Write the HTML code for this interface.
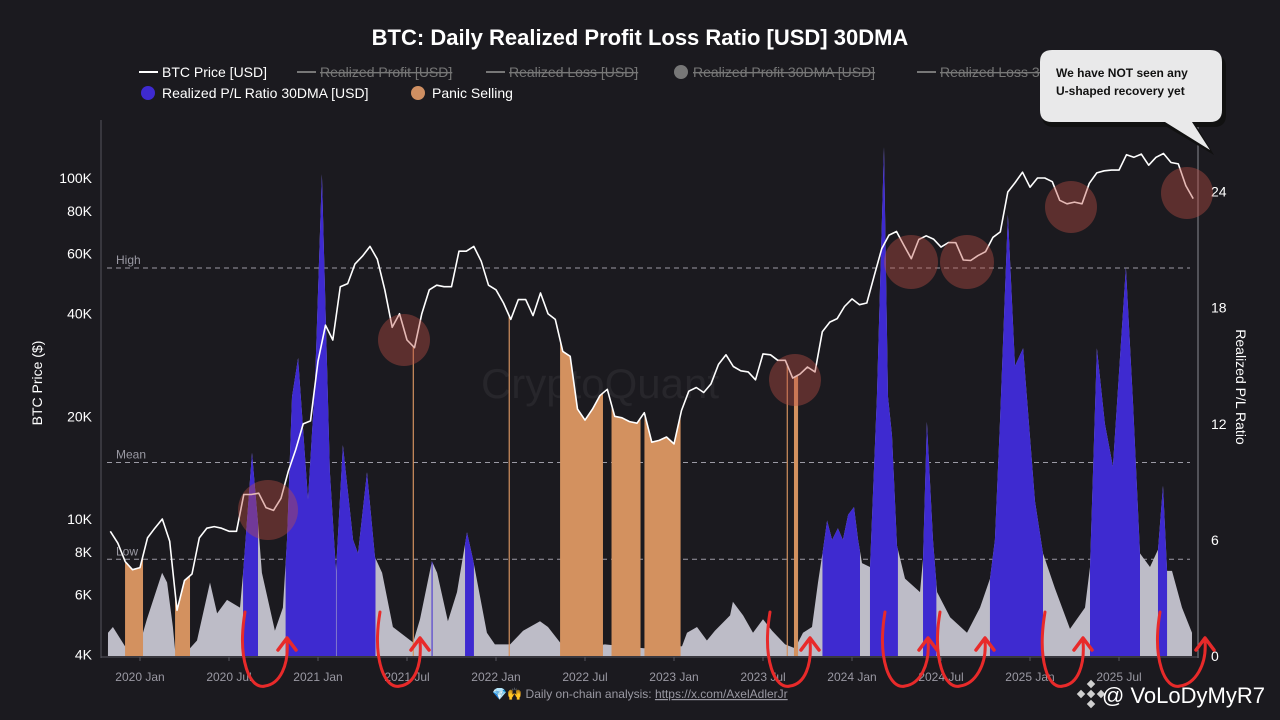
<!DOCTYPE html>
<html><head><meta charset="utf-8">
<style>
html,body{margin:0;padding:0;background:#1b1a1f;font-family:"Liberation Sans",sans-serif;}
#wrap{position:relative;width:1280px;height:720px;overflow:hidden;background:#1b1a1f;font-family:"Liberation Sans",sans-serif;}
svg{position:absolute;left:0;top:0;font-family:"Liberation Sans",sans-serif;}
</style></head>
<body>
<div id="wrap">
<svg id="chart" width="1280" height="720" viewBox="0 0 1280 720">
  <text x="640" y="45" text-anchor="middle" fill="#ffffff" font-size="22" font-weight="bold">BTC: Daily Realized Profit Loss Ratio [USD] 30DMA</text>
  <g font-size="14">
    <g><line x1="139" y1="72" x2="158" y2="72" stroke="#fff" stroke-width="2"/><text x="162" y="77" fill="#ffffff">BTC Price [USD]</text></g>
    <g><line x1="297" y1="72" x2="316" y2="72" stroke="#777" stroke-width="2"/><text x="320" y="77" fill="#777" text-decoration="line-through">Realized Profit [USD]</text></g>
    <g><line x1="486" y1="72" x2="505" y2="72" stroke="#777" stroke-width="2"/><text x="509" y="77" fill="#777" text-decoration="line-through">Realized Loss [USD]</text></g>
    <g><circle cx="681" cy="72" r="7" fill="#777"/><text x="693" y="77" fill="#777" text-decoration="line-through">Realized Profit 30DMA [USD]</text></g>
    <g><line x1="917" y1="72" x2="936" y2="72" stroke="#777" stroke-width="2"/><text x="940" y="77" fill="#777" text-decoration="line-through">Realized Loss 30DMA [USD]</text></g>
    <g><circle cx="148" cy="93" r="7" fill="#3e2ad0"/><text x="162" y="98" fill="#ffffff">Realized P/L Ratio 30DMA [USD]</text></g>
    <g><circle cx="418" cy="93" r="7" fill="#cf8f62"/><text x="432" y="98" fill="#ffffff">Panic Selling</text></g>
  </g>
  <text x="600" y="398" text-anchor="middle" fill="#27262b" font-size="42">CryptoQuant</text>
  <g id="grid"></g>
  <g id="marks"></g>
  <g id="axes"></g>
  <g id="overlay"></g>
</svg>
</div>
<script>
// ---------- data ----------
const priceDates = [2019.833,2019.875,2019.917,2019.958,
2020.0,2020.042,2020.083,2020.125,2020.167,2020.208,2020.25,2020.292,2020.333,2020.375,2020.417,2020.458,2020.5,2020.542,2020.583,2020.625,2020.667,2020.708,2020.75,2020.792,2020.833,2020.875,2020.917,2020.958,
2021.0,2021.042,2021.083,2021.125,2021.167,2021.208,2021.25,2021.292,2021.333,2021.375,2021.417,2021.458,2021.5,2021.542,2021.583,2021.625,2021.667,2021.708,2021.75,2021.792,2021.833,2021.875,2021.917,2021.958,
2022.0,2022.042,2022.083,2022.125,2022.167,2022.208,2022.25,2022.292,2022.333,2022.375,2022.417,2022.458,2022.5,2022.542,2022.583,2022.625,2022.667,2022.708,2022.75,2022.792,2022.833,2022.875,2022.917,2022.958,
2023.0,2023.042,2023.083,2023.125,2023.167,2023.208,2023.25,2023.292,2023.333,2023.375,2023.417,2023.458,2023.5,2023.542,2023.583,2023.625,2023.667,2023.708,2023.75,2023.792,2023.833,2023.875,2023.917,2023.958,
2024.0,2024.042,2024.083,2024.125,2024.167,2024.208,2024.25,2024.292,2024.333,2024.375,2024.417,2024.458,2024.5,2024.542,2024.583,2024.625,2024.667,2024.708,2024.75,2024.792,2024.833,2024.875,2024.917,2024.958,
2025.0,2025.042,2025.083,2025.125,2025.167,2025.208,2025.25,2025.292,2025.333,2025.375,2025.417,2025.458,2025.5,2025.542,2025.583,2025.625,2025.667,2025.708,2025.75,2025.792,2025.833,2025.875,2025.917];
const priceValues = [9200,8500,7500,7100,
7200,8800,9400,10000,8600,5400,6600,6900,8800,9400,9500,9400,9200,9200,11800,11800,11900,10800,10600,11500,13800,16000,19000,19400,
29000,37000,33500,48000,49000,56000,59000,63000,57800,47000,36500,40000,33500,31800,40000,47000,48500,48000,48000,61000,61000,63000,57000,48500,
47000,43000,38500,44000,44000,39500,46000,40000,38500,31000,30000,21000,19500,21000,23000,24000,20000,19800,19300,19100,20500,16800,17000,17400,
16600,20800,23700,24300,23500,24900,28400,30300,28000,27200,27000,25600,30500,30300,29200,29200,25900,26600,27900,27000,35400,37800,38700,42000,
44200,42500,43000,51800,62000,68000,69700,63400,58000,66000,67700,66200,62700,64700,64600,57500,57300,59200,60800,67000,69500,91000,97000,104000,
94000,100000,100000,97500,86000,84000,85000,84000,96500,103500,105000,105500,105500,117000,115000,117500,109000,115000,118000,111000,110000,95000,87000];

const ratioDates = [2019.82,2019.848,2019.916,2019.972,2020.017,2020.039,2020.124,2020.152,2020.185,2020.197,2020.242,2020.281,2020.320,2020.393,2020.433,2020.489,2020.562,2020.579,2020.629,2020.663,2020.685,2020.758,2020.803,2020.826,2020.854,2020.888,2020.944,2020.983,2021.022,2021.067,2021.101,2021.140,2021.197,2021.225,2021.275,2021.320,2021.360,2021.421,2021.534,2021.573,2021.640,2021.669,2021.730,2021.781,2021.837,2021.871,2021.893,2021.949,2021.994,2022.079,2022.152,2022.247,2022.292,2022.360,2022.472,2022.612,2022.831,2023.045,2023.073,2023.129,2023.185,2023.230,2023.315,2023.331,2023.388,2023.444,2023.500,2023.551,2023.624,2023.680,2023.725,2023.775,2023.809,2023.837,2023.860,2023.888,2023.921,2023.949,2023.978,2024.011,2024.034,2024.056,2024.101,2024.140,2024.180,2024.202,2024.225,2024.253,2024.298,2024.382,2024.399,2024.421,2024.455,2024.478,2024.551,2024.646,2024.719,2024.775,2024.803,2024.831,2024.876,2024.916,2024.961,2025.028,2025.073,2025.140,2025.225,2025.309,2025.337,2025.376,2025.421,2025.466,2025.539,2025.579,2025.618,2025.674,2025.719,2025.747,2025.770,2025.798,2025.854,2025.910];
const ratioValues = [1.2,1.5,0.5,0.6,1.2,1.9,4.3,3.8,1.5,0.3,0.3,0.4,0.8,3.8,2.2,2.9,2.5,4.3,10.5,6.9,4.3,1.3,2.5,6.0,13.4,15.4,8.1,14.1,24.9,9.5,4.4,10.9,6.0,5.3,9.5,5.1,4.3,1.5,0.7,1.9,4.9,4.3,1.8,3.3,6.4,5.0,3.9,1.2,0.6,0.6,1.3,1.8,1.5,0.7,0.4,0.6,0.4,0.5,1.2,1.5,0.8,1.3,2.1,2.8,2.1,1.2,1.9,1.3,0.6,0.4,1.2,1.5,3.8,5.5,7.0,6.0,6.6,6.0,7.3,7.7,6.0,4.8,4.6,13.4,26.3,13.4,11.4,5.7,4.0,3.3,5.0,12.1,6.0,3.3,2.0,1.2,2.5,4.0,6.0,12.0,22.8,15.0,15.9,8.0,5.3,3.5,1.4,2.5,4.6,15.9,12.0,9.8,20.1,13.0,5.3,4.6,5.5,8.8,4.4,4.4,2.5,1.2];

const blueRanges = [[2020.579,2020.663],[2020.818,2021.101],[2021.104,2021.323],[2021.638,2021.643],[2021.826,2021.876],[2023.834,2024.045],[2024.101,2024.258],[2024.399,2024.474],[2024.775,2025.073],[2025.337,2025.618],[2025.719,2025.770]];
const panicRanges = [[2019.916,2020.017],[2020.197,2020.281],[2021.532,2021.537],[2022.071,2022.076],[2022.360,2022.601],[2022.649,2022.812],[2022.834,2023.037],[2023.633,2023.638],[2023.674,2023.697]];

const xTickYears = [2020,2020.5,2021,2021.5,2022,2022.5,2023,2023.5,2024,2024.5,2025,2025.5];
const xTickLabels = ["2020 Jan","2020 Jul","2021 Jan","2021 Jul","2022 Jan","2022 Jul","2023 Jan","2023 Jul","2024 Jan","2024 Jul","2025 Jan","2025 Jul"];
const priceTicks = [4000,6000,8000,10000,20000,40000,60000,80000,100000];
const priceTickLabels = ["4K","6K","8K","10K","20K","40K","60K","80K","100K"];
const ratioTicks = [0,6,12,18,24];
const levelValues = [20.05,10.0,5.0];
const levelLabels = ["High","Mean","Low"];

// ---------- scales ----------
const X0=101, X1=1198, Y0=120, YB=656;
function xS(t){return 140 + (t-2020)*178;}
function yP(p){return 519 - 341*Math.log10(p/10000);}
function yR(v){return YB - v*19.35;}
const NS='http://www.w3.org/2000/svg';
function mk(tag,attrs,parent){const e=document.createElementNS(NS,tag);for(const k in attrs)e.setAttribute(k,attrs[k]);parent.appendChild(e);return e;}
const svg=document.getElementById('chart');
const grid=document.getElementById('grid'), marks=document.getElementById('marks'), axes=document.getElementById('axes'), overlay=document.getElementById('overlay');
const defs=mk('defs',{},svg);

const cpB=mk('clipPath',{id:'blueClip'},defs);
blueRanges.forEach(r=>{mk('rect',{x:xS(r[0]),y:0,width:Math.max(1,xS(r[1])-xS(r[0])),height:720},cpB);});
const cpP=mk('clipPath',{id:'panicClip'},defs);
panicRanges.forEach(r=>{mk('rect',{x:xS(r[0]),y:0,width:Math.max(1.2,xS(r[1])-xS(r[0])),height:720},cpP);});

let ra='M'+xS(ratioDates[0])+','+YB;
ratioDates.forEach((d,i)=>{ra+=' L'+xS(d).toFixed(1)+','+yR(ratioValues[i]).toFixed(1);});
ra+=' L'+xS(ratioDates[ratioDates.length-1])+','+YB+' Z';
const gArea=mk('path',{d:ra,fill:'#bdbcc7'},marks);


const bArea=mk('path',{d:ra,fill:'#3e2ad0','clip-path':'url(#blueClip)'},marks);



let pa='M'+xS(priceDates[0])+','+YB;
priceDates.forEach((d,i)=>{pa+=' L'+xS(d).toFixed(1)+','+yP(priceValues[i]).toFixed(1);});
pa+=' L'+xS(priceDates[priceDates.length-1])+','+YB+' Z';
const pArea=mk('path',{d:pa,fill:'#d3915f','clip-path':'url(#panicClip)'},marks);



levelValues.forEach((v,i)=>{
  const l=mk('line',{x1:107,x2:1190,y1:yR(v),y2:yR(v),stroke:'#bdbcc7','stroke-width':1,'stroke-dasharray':'5,4',opacity:0.8},grid);
  
  
  const t=mk('text',{x:116,y:yR(v)-4,fill:'#9a99a3','font-size':12},grid);
  t.textContent=levelLabels[i];
  
  
});

let pl='';
priceDates.forEach((d,i)=>{pl+=(i?' L':'M')+xS(d).toFixed(1)+','+yP(priceValues[i]).toFixed(1);});
const pLine=mk('path',{d:pl,fill:'none',stroke:'#ffffff','stroke-width':1.6,'stroke-linejoin':'round'},marks);



mk('line',{x1:X0,x2:X0,y1:Y0,y2:YB+2,stroke:'#55545c','stroke-width':1},axes);
mk('line',{x1:X1,x2:X1,y1:Y0,y2:YB+2,stroke:'#8a8990','stroke-width':1},axes);
mk('line',{x1:X0,x2:X1,y1:YB+1,y2:YB+1,stroke:'#55545c','stroke-width':1},axes);
xTickYears.forEach((t,i)=>{
  mk('line',{x1:xS(t),x2:xS(t),y1:YB+1,y2:YB+5,stroke:'#55545c'},axes);
  const tx=mk('text',{x:xS(t),y:681,'text-anchor':'middle',fill:'#9a99a3','font-size':12},axes);
  tx.textContent=xTickLabels[i];
  
  
});
priceTicks.forEach((p,i)=>{
  const tx=mk('text',{x:92,y:yP(p)+5,'text-anchor':'end',fill:'#ffffff','font-size':14},axes);
  tx.textContent=priceTickLabels[i];
  
  
});
ratioTicks.forEach(v=>{
  const tx=mk('text',{x:1211,y:yR(v)+5,fill:'#ffffff','font-size':14},axes);
  tx.textContent=String(v);
  
  
});
const yl=mk('text',{x:0,y:0,'text-anchor':'middle',fill:'#ffffff','font-size':14,transform:'translate(42,383) rotate(-90)'},axes);
yl.textContent='BTC Price ($)';


const yr=mk('text',{x:0,y:0,'text-anchor':'middle',fill:'#ffffff','font-size':14,transform:'translate(1236,387) rotate(90)'},axes);
yr.textContent='Realized P/L Ratio';



const circles=[[268,510,30],[404,340,26],[795,380,26],[911,262,27],[967,262,27],[1071,207,26],[1187,193,26]];
circles.forEach(c=>{
  const e=mk('circle',{cx:c[0],cy:c[1],r:c[2],fill:'rgba(190,80,70,0.4)'},overlay);
  
  
});
const arrows=[[245,265,287],[380,400,420],[770,790,810],[885,905,928],[940,960,985],[1045,1063,1083],[1160,1180,1205]];
arrows.forEach(a=>{
  const d='M'+a[0]+',612 C'+(a[0]-8)+',660 '+(a[1]-15)+',690 '+a[1]+',686 C'+(a[1]+15)+',684 '+(a[2]+2)+',665 '+a[2]+',641';
  const e=mk('path',{d:d,fill:'none',stroke:'#e82a2a','stroke-width':3,'stroke-linecap':'round'},overlay);
  
  
  const h=mk('path',{d:'M'+(a[2]-9)+',650 L'+a[2]+',638 L'+(a[2]+9)+',650',fill:'none',stroke:'#e82a2a','stroke-width':3.5,'stroke-linecap':'round','stroke-linejoin':'round'},overlay);
  
  
});
</script>
<svg width="1280" height="720" style="position:absolute;left:0;top:0;pointer-events:none;font-family:'Liberation Sans',sans-serif">
  <g>
    <path d="M1052,52 Q1040,52 1040,64 L1040,112 Q1040,124 1052,124 L1165,124 L1212,152 L1195,124 L1212,124 Q1224,124 1224,112 L1224,64 Q1224,52 1212,52 Z" fill="#111" transform="translate(2,3)"/>
    <path d="M1052,50 Q1040,50 1040,62 L1040,110 Q1040,122 1052,122 L1165,122 L1210,150 L1192,122 L1210,122 Q1222,122 1222,110 L1222,62 Q1222,50 1210,50 Z" fill="#e9e9ea"/>
    <text x="1056" y="77" fill="#111" font-size="12" font-weight="bold" font-family="Liberation Sans, sans-serif">We have NOT seen any</text>
    <text x="1056" y="95" fill="#111" font-size="12" font-weight="bold" font-family="Liberation Sans, sans-serif">U-shaped recovery yet</text>
  </g>
  <text x="640" y="698" text-anchor="middle" fill="#9a99a3" font-size="12" font-family="Liberation Sans, sans-serif">💎🙌 Daily on-chain analysis: <tspan text-decoration="underline">https://x.com/AxelAdlerJr</tspan></text>
  <g fill="#d0d0d0">
    <rect x="1078" y="691" width="6" height="6" transform="rotate(45 1081 694)"/>
    <rect x="1088" y="681" width="6" height="6" transform="rotate(45 1091 684)"/>
    <rect x="1088" y="701" width="6" height="6" transform="rotate(45 1091 704)"/>
    <rect x="1098" y="691" width="6" height="6" transform="rotate(45 1101 694)"/>
    <rect x="1088" y="691" width="6" height="6" transform="rotate(45 1091 694)"/>
  </g>
  <text x="1102" y="703" fill="#ffffff" font-size="22" font-family="Liberation Sans, sans-serif">@ VoLoDyMyR7</text>
</svg>
</body></html>
